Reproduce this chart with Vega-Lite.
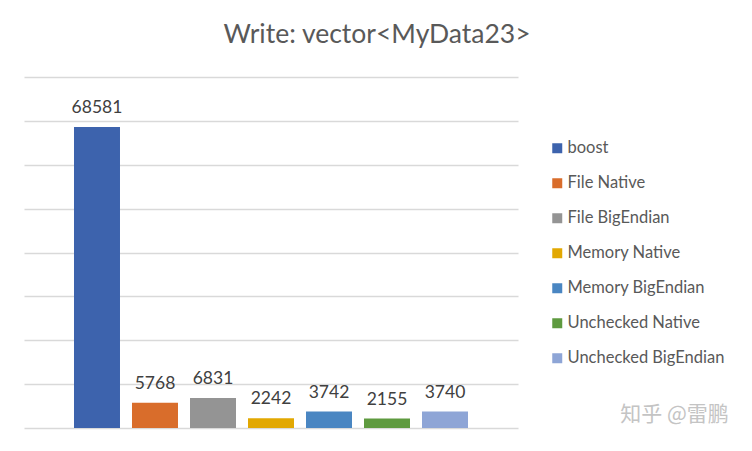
{
  "$schema": "https://vega.github.io/schema/vega-lite/v6.json",
  "autosize": {"type": "none"},
  "width": 494,
  "height": 351,
  "padding": {"left": 24, "top": 77, "right": 234, "bottom": 23},
  "background": "white",
  "config": {"view": {"stroke": null}},
  "title": {
    "text": "Write: vector<MyData23>",
    "font": "Lato",
    "fontSize": 26.5,
    "fontWeight": "normal",
    "color": "#595959",
    "anchor": "middle",
    "frame": "group",
    "dx": 106,
    "baseline": "alphabetic",
    "offset": 8
  },
  "data": {
    "values": [
      {"series": "boost", "value": 68581},
      {"series": "File Native", "value": 5768},
      {"series": "File BigEndian", "value": 6831},
      {"series": "Memory Native", "value": 2242},
      {"series": "Memory BigEndian", "value": 3742},
      {"series": "Unchecked Native", "value": 2155},
      {"series": "Unchecked BigEndian", "value": 3740}
    ]
  },
  "encoding": {
    "x": {
      "field": "series",
      "type": "nominal",
      "sort": null,
      "scale": {"paddingInner": 0.207, "paddingOuter": 0.862},
      "axis": {
        "labels": false,
        "ticks": false,
        "domain": false,
        "title": "知乎 @雷鹏",
        "titleFont": "Noto Sans CJK SC",
        "titleFontSize": 21,
        "titleFontWeight": "normal",
        "titleColor": "#c4c4c4",
        "titleX": 650,
        "titleY": -14,
        "titleAlign": "center",
        "titleBaseline": "middle"
      }
    },
    "y": {
      "field": "value",
      "type": "quantitative",
      "scale": {"domain": [0, 80000], "nice": false},
      "axis": {
        "labels": false,
        "ticks": false,
        "domain": false,
        "title": null,
        "values": [0, 10000, 20000, 30000, 40000, 50000, 60000, 70000, 80000],
        "grid": true,
        "gridColor": "#d9d9d9",
        "gridWidth": 1.5
      }
    }
  },
  "layer": [
    {
      "mark": {"type": "bar"},
      "encoding": {
        "color": {
          "field": "series",
          "type": "nominal",
          "sort": null,
          "scale": {
            "domain": ["boost", "File Native", "File BigEndian", "Memory Native", "Memory BigEndian", "Unchecked Native", "Unchecked BigEndian"],
            "range": ["#3d63ad", "#d96d2b", "#949494", "#e2a802", "#4a86c2", "#5e9a3f", "#8ea5d6"]
          },
          "legend": {
            "title": null,
            "orient": "none",
            "legendX": 525,
            "legendY": 63,
            "symbolType": "square",
            "symbolSize": 100,
            "symbolStrokeWidth": 0,
            "labelFont": "Lato",
            "labelFontSize": 16.5,
            "labelColor": "#595959",
            "labelOffset": 2,
            "rowPadding": 18,
            "labelLimit": 300
          }
        }
      }
    },
    {
      "mark": {
        "type": "text",
        "font": "Lato",
        "fontSize": 17.5,
        "color": "#404040",
        "baseline": "alphabetic",
        "dy": -14
      },
      "encoding": {
        "text": {"field": "value", "type": "quantitative", "format": "d"}
      }
    }
  ]
}
